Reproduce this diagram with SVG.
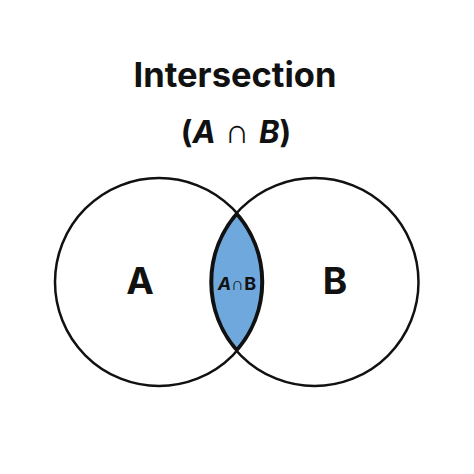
<svg xmlns="http://www.w3.org/2000/svg" width="474" height="474" viewBox="0 0 474 474">
<style>
text{font-family:Inter,"Noto Sans","Liberation Sans",sans-serif;fill:#111;text-anchor:middle;font-weight:700}
.c{fill:none;stroke:#111;stroke-width:2.5}
.i{font-style:italic}
.n{font-weight:400;font-style:normal}
</style>
<rect width="474" height="474" fill="#fff"/>
<g id="title">
<text x="235" y="87" font-size="34.5">Intersection</text>
<text x="236" y="143" font-size="31"><tspan>(</tspan><tspan class="i">A</tspan><tspan class="n" font-size="34"> ∩ </tspan><tspan class="i">B</tspan><tspan>)</tspan></text>
</g>
<g id="lens">
<path d="M236.75 214.7 A104 104 0 0 1 236.75 349.3 A104 104 0 0 1 236.75 214.7 Z" fill="#6fa8dc" stroke="#111" stroke-width="2.5"/>
<text x="237" y="290" font-size="18" font-weight="600"><tspan class="i">A</tspan><tspan class="n">∩</tspan>B</text>
</g>
<g id="setA">
<circle class="c" cx="159" cy="282" r="104"/>
<text x="140" y="294" font-size="37">A</text>
</g>
<g id="setB">
<circle class="c" cx="314.5" cy="282" r="104"/>
<text x="335" y="294" font-size="37">B</text>
</g>
</svg>
